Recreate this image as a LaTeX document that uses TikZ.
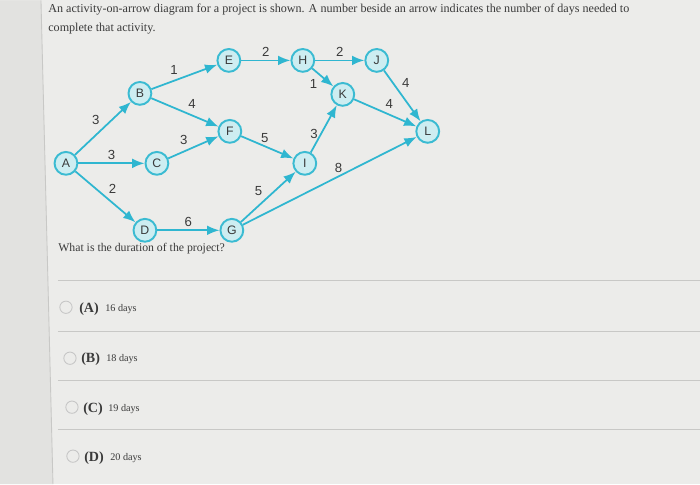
\documentclass[tikz,border=0pt]{standalone}
\usepackage{fontspec}
\setmainfont{Liberation Serif}
\setsansfont{Liberation Sans}
\usetikzlibrary{arrows.meta}
\definecolor{paper}{HTML}{ECECEA}
\definecolor{margin}{HTML}{E2E2E0}
\definecolor{rule}{HTML}{C8C8C6}
\definecolor{ring}{HTML}{3BBBD2}
\definecolor{disc}{HTML}{CDEDF1}
\definecolor{arc}{HTML}{2FB6D0}
\definecolor{ink}{HTML}{3A3A3A}

\begin{document}
\begin{tikzpicture}[x=0.02cm,y=-0.02cm]
\tikzstyle{ev}=[draw=ring,line width=1.1pt,circle,fill=disc,minimum size=13pt,inner sep=0pt,font=\sffamily\fontsize{7}{8}\selectfont,text=ink]
\tikzstyle{act}=[draw=arc,line width=1pt,-{Latex[length=7pt,width=5.5pt]}]
\tikzstyle{radio}=[draw=gray!45,circle,minimum size=7pt,inner sep=0pt,line width=0.5pt]

% page
\fill[paper] (0,0) rectangle (700,484);
\fill[margin] (0,0) -- (41,0) -- (53,484) -- (0,484) -- cycle;
\draw[rule,line width=0.5pt] (41,0) -- (53,484);
\foreach \y in {280,331,380,429}
  \draw[rule,line width=0.5pt] (58,\y) -- (700,\y);

% question
\node[anchor=base west,inner sep=0pt,text=ink,font=\fontsize{6.9}{8}\selectfont] (t1) at (48,12)
  {An activity-on-arrow diagram for a project is shown. A number beside an arrow indicates the number of days needed to};
\node[anchor=base west,inner sep=0pt,text=ink,font=\fontsize{6.9}{8}\selectfont] (t2) at (48,31)
  {complete that activity.};

% events
\node [ev] (a) at (66,163) {A};
\node [ev] (b) at (140,93) {B};
\node [ev] (c) at (157,163) {C};
\node [ev] (d) at (145,230) {D};
\node [ev] (e) at (229,60) {E};
\node [ev] (f) at (230,131) {F};
\node [ev] (g) at (232,230) {G};
\node [ev] (h) at (303,60) {H};
\node [ev] (i) at (305,163) {I};
\node [ev] (j) at (377,60) {J};
\node [ev] (k) at (343,94) {K};
\node [ev] (l) at (428,131) {L};

\path[every node/.style={font=\sffamily\fontsize{7.5}{8}\selectfont,text=ink,inner sep=1.5pt}]
(a) edge[act] node[above left] {3} (b)
(a) edge[act] node[above] {3} (c)
(a) edge[act] node[above right,pos=0.5] {2} (d)
(b) edge[act] node[above left,pos=0.45] {1} (e)
(b) edge[act] node[above right] {4} (f)
(c) edge[act] node[above left,pos=0.45] {3} (f)
(d) edge[act] node[above] {6} (g)
(e) edge[act] node[above] {2} (h)
(f) edge[act] node[above,pos=0.45] {5} (i)
(g) edge[act] node[above left,pos=0.45] {5} (i)
(g) edge[act] node[above,pos=0.55] {8} (l)
(h) edge[act] node[above] {2} (j)
(h) edge[act] node[below left,pos=0.4] {1} (k)
(i) edge[act] node[left,pos=0.4] {3} (k)
(k) edge[act] node[above right,pos=0.45] {4} (l)
(j) edge[act] node[above right,pos=0.4] {4} (l);

\node[anchor=base west,inner sep=0pt,text=ink,font=\fontsize{6.7}{8}\selectfont] (q) at (58,251)
  {What is the duration of the project?};

% choices
\node[radio] (ra) at (66,307) {};
\node[anchor=base west,inner sep=0pt,text=ink,font=\bfseries\fontsize{8}{9}\selectfont] (oa) at (79,312) {(A)};
\node[anchor=base west,inner sep=0pt,text=ink,font=\fontsize{5.8}{7}\selectfont] at (105,311) {16 days};
\node[radio] (rb) at (70,358) {};
\node[anchor=base west,inner sep=0pt,text=ink,font=\bfseries\fontsize{8}{9}\selectfont] (ob) at (81,362) {(B)};
\node[anchor=base west,inner sep=0pt,text=ink,font=\fontsize{5.8}{7}\selectfont] at (106,361) {18 days};
\node[radio] (rc) at (72,407) {};
\node[anchor=base west,inner sep=0pt,text=ink,font=\bfseries\fontsize{8}{9}\selectfont] (oc) at (83,412) {(C)};
\node[anchor=base west,inner sep=0pt,text=ink,font=\fontsize{5.8}{7}\selectfont] at (108,411) {19 days};
\node[radio] (rd) at (73,456) {};
\node[anchor=base west,inner sep=0pt,text=ink,font=\bfseries\fontsize{8}{9}\selectfont] (od) at (84,461) {(D)};
\node[anchor=base west,inner sep=0pt,text=ink,font=\fontsize{5.8}{7}\selectfont] at (110,460) {20 days};
\end{tikzpicture}
\end{document}
